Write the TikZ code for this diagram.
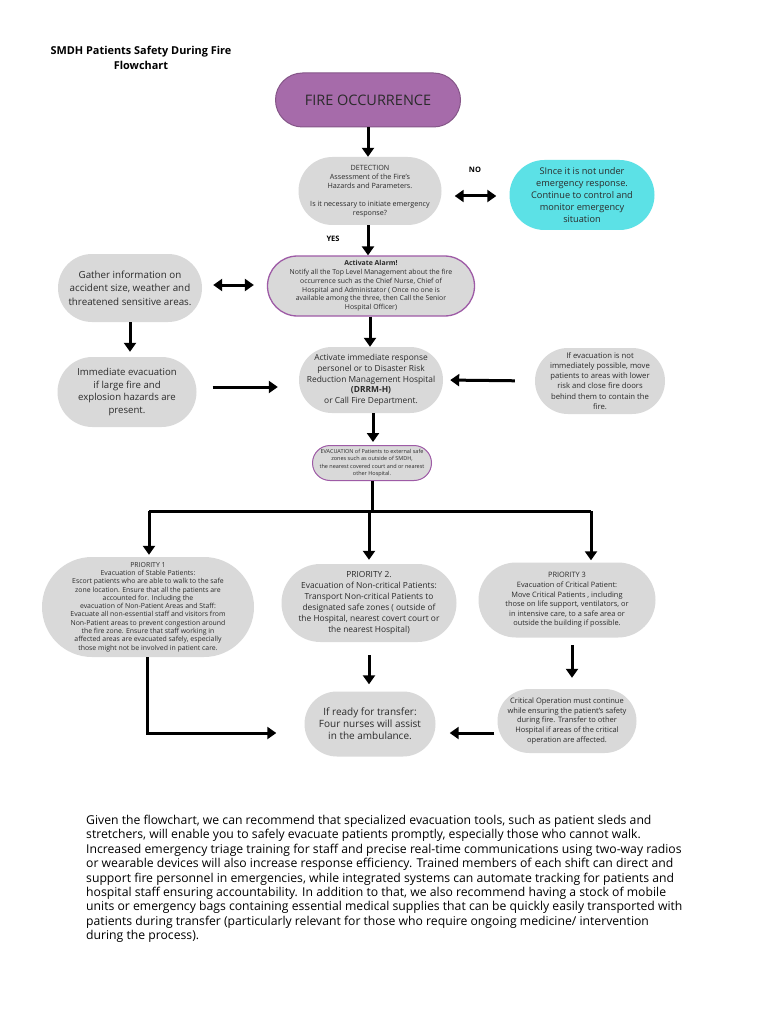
\documentclass[tikz,border=0pt]{standalone}
\usepackage{fontspec}
\setmainfont{Open Sans}
\usetikzlibrary{arrows.meta}
\definecolor{boxgray}{HTML}{D9D9D9}
\definecolor{firepurple}{HTML}{A66BAA}
\definecolor{purpleline}{HTML}{9E5BA6}
\definecolor{cyanbox}{HTML}{5CE1E6}
\definecolor{txt}{HTML}{2B2B2B}
\begin{document}
\begin{tikzpicture}[x=1pt,y=-1pt,
  pill/.style n args={3}{minimum width=#1pt, minimum height=#2pt, rounded corners=#3pt, inner sep=0pt, align=center, text=txt},
  fs/.style 2 args={font=\fontsize{#1}{#2}\selectfont},
  gbox/.style={fill=boxgray, draw=none},
  pbox/.style={fill=boxgray, draw=purpleline, line width=1.3pt},
  arr/.style={line width=3pt, -{Triangle[width=12pt,length=9pt]}},
  darr/.style={line width=3pt, {Triangle[width=12pt,length=9pt]}-{Triangle[width=12pt,length=9pt]}},
  ln/.style={line width=3pt},
  lbl/.style={font=\fontsize{7.5}{9}\selectfont\bfseries, text=black, inner sep=0pt}
]
\useasboundingbox[fill=white] (0,0) rectangle (768,1024);

% title
\node[font=\fontsize{10.9}{15}\selectfont\bfseries, align=center, inner sep=0pt, text=black] (title) at (141,58) {SMDH Patients Safety During Fire\\Flowchart};

% nodes
\node[pill={185}{54}{27}, fill=firepurple, draw=firepurple!80!black, line width=1pt, fs={14.5}{16}] (fire) at (368,100) {FIRE OCCURRENCE};
\node[pill={143}{68}{34}, gbox, fs={7.2}{9}] (det) at (370,191) {DETECTION\\Assessment of the Fire's\\Hazards and Parameters.\\ \\Is it necessary to initiate emergency\\response?};
\node[pill={145}{70}{35}, fill=cyanbox, fs={9.2}{12}] (cyan) at (582,195) {SInce it is not under\\emergency response.\\Continue to control and\\monitor emergency\\situation};
\node[pill={207}{60}{30}, pbox, fs={6.9}{8.8}] (alarm) at (371,286) {\textbf{Activate Alarm!}\\Notify all the Top Level Management about the fire\\occurrence such as the Chief Nurse, Chief of\\Hospital and Administator ( Once no one is\\available among the three, then Call the Senior\\Hospital Officer)};
\node[pill={144}{68}{34}, gbox, fs={9.8}{13.5}] (gather) at (130,288) {Gather information on\\accident size, weather and\\threatened sensitive areas.};
\node[pill={139}{70}{35}, gbox, fs={9.6}{12.7}] (imm) at (127,392) {Immediate evacuation\\if large fire and\\explosion hazards are\\present.};
\node[pill={144}{66}{33}, gbox, fs={8.4}{10.8}] (resp) at (371,380) {Activate immediate response\\personel or to Disaster Risk\\Reduction Management Hospital\\\textbf{(DRRM-H)}\\or Call Fire Department.};
\node[pill={130}{66}{33}, gbox, fs={7.7}{10.2}] (right) at (600,381) {If evacuation is not\\immediately possible, move\\patients to areas with lower\\risk and close fire doors\\behind them to contain the\\fire.};
\node[pill={119}{35}{17.5}, pbox, line width=1pt, fs={5.5}{7.6}] (evac) at (372,463) {EVACUATION of Patients  to external safe\\zones such as  outside of SMDH,\\the nearest covered court and or nearest\\other Hospital.};
\node[pill={212}{100}{50}, gbox, fs={6.9}{8.3}] (p1) at (148,607) {PRIORITY 1\\Evacuation of Stable Patients:\\Escort patients who are able to walk to the safe\\zone location. Ensure that all the patients are\\accounted for. Including the\\evacuation of Non-Patient Areas and Staff:\\Evacuate all non-essential staff and visitors from\\Non-Patient areas to prevent congestion around\\the fire zone. Ensure that staff working in\\affected areas are evacuated safely, especially\\those might not be involved in patient care.};
\node[pill={175}{78}{39}, gbox, fs={8.4}{11}] (p2) at (369,603) {PRIORITY 2.\\Evacuation of Non-critical Patients:\\Transport Non-critical Patients to\\designated safe zones ( outside of\\the Hospital, nearest covert court or\\the nearest Hospital)};
\node[pill={177}{75}{37.5}, gbox, fs={7.4}{9.6}] (p3) at (567,600) {PRIORITY 3\\Evacuation of Critical Patient:\\Move Critical Patients , including\\those on life support, ventilators, or\\in intensive care, to a safe area or\\outside the building if possible.};
\node[pill={139}{64}{32}, gbox, fs={7.5}{9.8}] (crit) at (567,721) {Critical Operation must continue\\while ensuring the patient's safety\\during fire. Transfer to other\\Hospital if areas of the critical\\operation are affected.};
\node[pill={131}{65}{32.5}, gbox, fs={10}{12}] (ready) at (370,724) {If ready for transfer:\\Four nurses will assist\\in the ambulance.};

% labels
\node[lbl] (no) at (475,170) {NO};
\node[lbl] (yes) at (333,239) {YES};

% connectors
\draw[arr] (fire.south -| 368,0) -- (det.north -| 368,0);
\draw[darr, shorten <=13pt, shorten >=13pt] (det.east |- 0,196) -- (cyan.west |- 0,196);
\draw[arr] (det.south -| 368,0) -- (alarm.north -| 368,0);
\draw[darr, shorten <=11pt, shorten >=13pt] (gather.east |- 0,285) -- (alarm.west |- 0,285);
\draw[arr, shorten >=5pt] (gather.south) -- (imm.north -| gather.south);
\draw[arr] (alarm.south -| 370,0) -- (resp.north -| 370,0);
\draw[arr, shorten <=16pt, shorten >=21pt] (imm.east |- 0,387) -- (resp.west |- 0,387);
\draw[arr, shorten <=20pt, shorten >=7pt] (right.west) -- (resp.east);
\draw[arr, shorten >=3pt] (resp.south -| 373,0) -- (evac.north -| 373,0);
\coordinate (jl) at (149,511);
\coordinate (jr) at (591,511);
\draw[ln] (evac.south) |- (jl);
\draw[ln] (evac.south) |- (jr);
\draw[arr, shorten >=2pt] (jl) -- (jl |- p1.north);
\draw[arr, shorten >=4pt] (p2.north |- jl) -- (p2.north);
\draw[arr, shorten >=2pt] (jr) -- (jr |- p3.north);
\draw[arr, shorten <=13pt, shorten >=7pt] (p2.south) -- (ready.north -| p2.south);
\draw[arr, shorten <=7.5pt, shorten >=11pt] (p3.south -| 572,0) -- (crit.north -| 572,0);
\draw[arr, shorten <=3pt, shorten >=14pt] (crit.west |- 0,733) -- (ready.east |- 0,733);
\coordinate (p1c) at (147,733);
\draw[arr, shorten >=28pt] (p1.south -| p1c) -- (p1c) -- (ready.west |- p1c);

% paragraph
\node[anchor=north west, align=left, inner sep=0pt, fs={12.2}{14.4}, text=black] (para) at (86,815) {Given the flowchart, we can recommend that specialized evacuation tools, such as patient sleds and\\stretchers, will enable you to safely evacuate patients promptly, especially those who cannot walk.\\Increased emergency triage training for staff and precise real-time communications using two-way radios\\or wearable devices will also increase response efficiency. Trained members of each shift can direct and\\support fire personnel in emergencies, while integrated systems can automate tracking for patients and\\hospital staff ensuring accountability. In addition to that, we also recommend having a stock of mobile\\units or emergency bags containing essential medical supplies that can be quickly easily transported with\\patients during transfer (particularly relevant for those who require ongoing medicine/ intervention\\during the process).};
\end{tikzpicture}
\end{document}
